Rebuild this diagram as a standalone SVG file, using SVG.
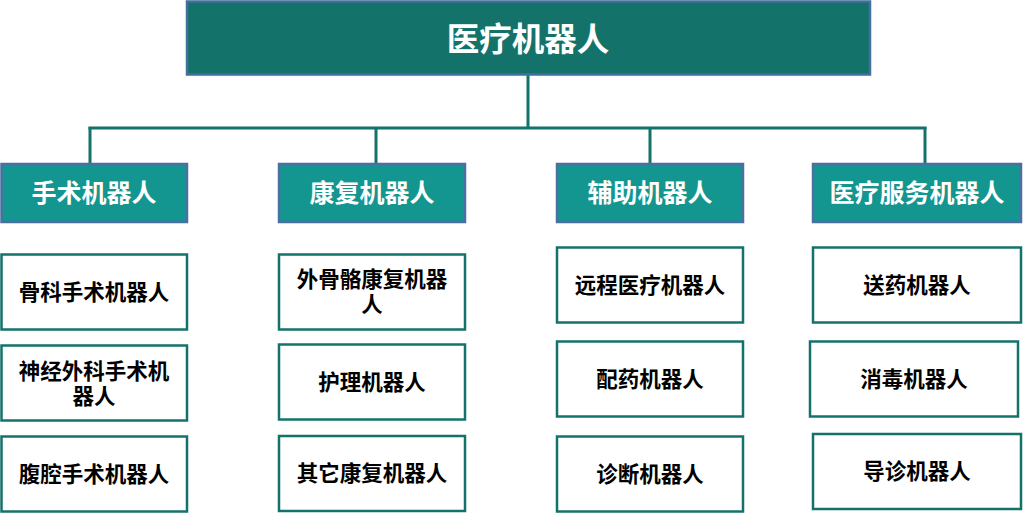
<svg xmlns="http://www.w3.org/2000/svg" width="1023" height="513" viewBox="0 0 1023 513">
<style>
text{font-family:"Noto Sans CJK SC","Noto Sans",sans-serif;font-weight:700;text-anchor:middle;dominant-baseline:central}
.root rect{fill:#13736A;stroke:#41709C;stroke-width:2.5}
.root text{fill:#fff;font-size:32.5px}
.cat rect{fill:#13968F;stroke:#4A6FA0;stroke-width:2.5}
.cat text{fill:#fff;font-size:25px}
.leaf rect{fill:#fff;stroke:#13736A;stroke-width:2.5}
.leaf text{fill:#000;font-size:21.5px}
.conn line{stroke:#13736A;stroke-width:3}
</style>
<rect width="1023" height="513" fill="#fff"/>
<g class="conn">
<line x1="528" y1="75" x2="528" y2="129"/>
<line x1="88.5" y1="128" x2="926.5" y2="128"/>
<line x1="90" y1="127" x2="90" y2="164"/>
<line x1="376" y1="127" x2="376" y2="164"/>
<line x1="650" y1="127" x2="650" y2="164"/>
<line x1="925" y1="127" x2="925" y2="164"/>
</g>
<g id="root" class="root"><rect x="187" y="1.5" width="683" height="73"/><text x="528" y="36">医疗机器人</text></g>
<g id="cat1" class="cat"><rect x="1.5" y="164" width="185.5" height="58"/><text x="94" y="191">手术机器人</text></g>
<g id="cat2" class="cat"><rect x="279" y="164" width="186" height="58"/><text x="372" y="191">康复机器人</text></g>
<g id="cat3" class="cat"><rect x="557" y="164" width="186" height="58"/><text x="650" y="191">辅助机器人</text></g>
<g id="cat4" class="cat"><rect x="813" y="164" width="208" height="58"/><text x="917" y="191">医疗服务机器人</text></g>
<g id="l11" class="leaf"><rect x="1.5" y="254.5" width="185.5" height="75"/><text x="94" y="290">骨科手术机器人</text></g>
<g id="l12" class="leaf"><rect x="1.5" y="345.5" width="185.5" height="75"/><text x="94" y="369">神经外科手术机<tspan x="94" dy="25">器人</tspan></text></g>
<g id="l13" class="leaf"><rect x="1.5" y="436.5" width="185.5" height="75"/><text x="94" y="472">腹腔手术机器人</text></g>
<g id="l21" class="leaf"><rect x="279" y="254.5" width="186" height="75"/><text x="372" y="277">外骨骼康复机器<tspan x="372" dy="25">人</tspan></text></g>
<g id="l22" class="leaf"><rect x="279" y="344.5" width="186" height="75"/><text x="372" y="380">护理机器人</text></g>
<g id="l23" class="leaf"><rect x="279" y="436" width="186" height="75"/><text x="372" y="471">其它康复机器人</text></g>
<g id="l31" class="leaf"><rect x="557" y="247.5" width="186" height="75"/><text x="650" y="283">远程医疗机器人</text></g>
<g id="l32" class="leaf"><rect x="557" y="341.5" width="186" height="75"/><text x="650" y="377">配药机器人</text></g>
<g id="l33" class="leaf"><rect x="557" y="436.5" width="186" height="75"/><text x="650" y="472">诊断机器人</text></g>
<g id="l41" class="leaf"><rect x="813" y="247.5" width="208" height="75"/><text x="917" y="283">送药机器人</text></g>
<g id="l42" class="leaf"><rect x="810" y="341.5" width="208" height="75"/><text x="914" y="377">消毒机器人</text></g>
<g id="l43" class="leaf"><rect x="813" y="434" width="208" height="75"/><text x="917" y="469">导诊机器人</text></g>
</svg>
